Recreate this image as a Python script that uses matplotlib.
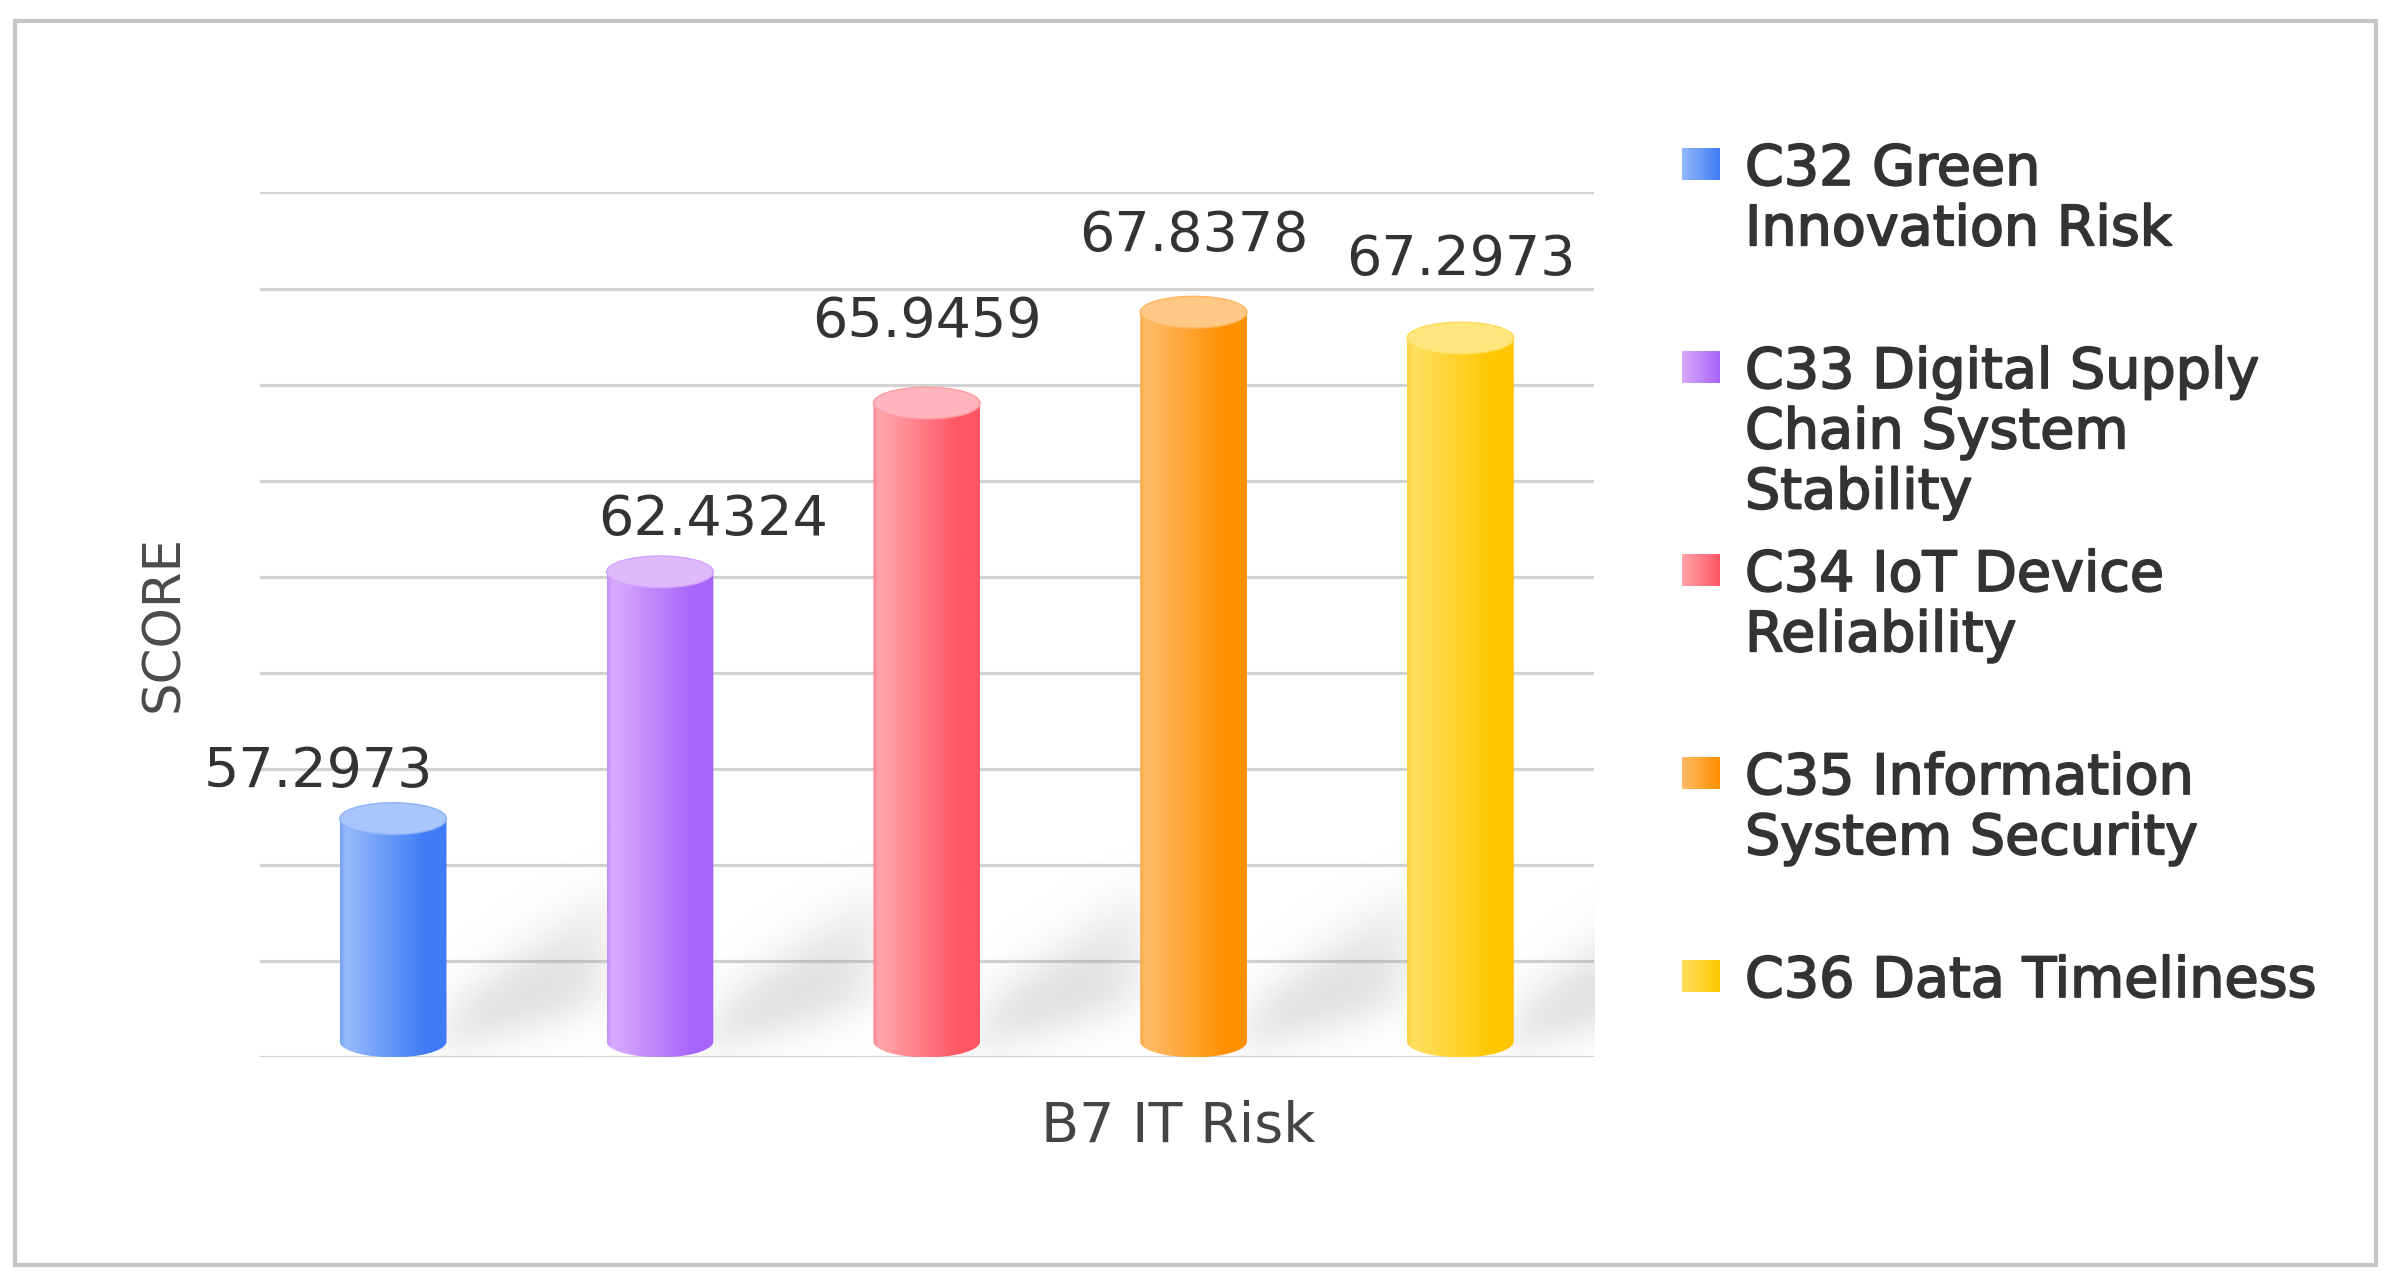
import numpy as np
import matplotlib
matplotlib.use("Agg")
import matplotlib.pyplot as plt
import matplotlib.patheffects as pe
from matplotlib.patches import Ellipse, PathPatch, Rectangle
from matplotlib.path import Path
from matplotlib.colors import to_rgb

# ---------------- data ----------------
categories = ["C32 Green Innovation Risk",
              "C33 Digital Supply Chain System Stability",
              "C34 IoT Device Reliability",
              "C35 Information System Security",
              "C36 Data Timeliness"]
legend_labels = ["C32 Green\nInnovation Risk",
                 "C33 Digital Supply\nChain System\nStability",
                 "C34 IoT Device\nReliability",
                 "C35 Information\nSystem Security",
                 "C36 Data Timeliness"]
values = [57.2973, 62.4324, 65.9459, 67.8378, 67.2973]
value_labels = ["57.2973", "62.4324", "65.9459", "67.8378", "67.2973"]
group_label = "B7 IT Risk"
y_label = "SCORE"
y_min, y_max, y_step = 52, 70, 2

# ---------------- style ----------------
light_cols = ["#93B8FB", "#D6A9FD", "#FFA3AA", "#FFBA66", "#FFDE5E"]
dark_cols = ["#3F7CF6", "#A865F9", "#FF5764", "#FF9000", "#FFC700"]
label_dx = [-75, 53, 0, 0, 0]      # pixel offsets of value labels
label_dy = [16, 21, 50, 46, 47]
bar_w = 0.40
ell = 0.33                          # ellipse semi-height (data units)
text_col = "#333333"

W, H, DPI = 2396, 1288, 100
fig = plt.figure(figsize=(W / DPI, H / DPI), dpi=DPI)
fig.patch.set_facecolor("white")

# outer frame
fig.add_artist(Rectangle((0.0062, 0.0178), 0.9855, 0.9660, transform=fig.transFigure,
                         fill=False, edgecolor="#c6c6c6", linewidth=3.0))

ax = fig.add_axes([0.1084, 0.1791, 0.5568, 0.6715])
ax.set_xlim(-0.5, len(values) - 0.5)
ax.set_ylim(y_min, y_max)
for s in ax.spines.values():
    s.set_visible(False)
ax.set_xticks([])
ax.set_yticks(np.arange(y_min, y_max + 0.1, y_step))
ax.tick_params(axis="y", length=0, labelleft=False)
ax.yaxis.grid(True, color="#d2d2d2", linewidth=2.3, zorder=0)
ax.set_axisbelow(True)

# ---------------- floor shadows ----------------
nx, ny = 1200, 500
xs = np.linspace(-0.5, len(values) - 0.5, nx)
ys = np.linspace(y_min, y_max, ny)
X, Y = np.meshgrid(xs, ys)
alpha = np.zeros_like(X)
sig = lambda z: 1.0 / (1.0 + np.exp(-z))
for i in range(len(values)):
    u = (X - (i + 0.18)) / 0.60
    lower = y_min + 0.15 + 0.9 * u
    upper = y_min + 0.9 + 2.3 * u
    a = (sig(u / 0.08) * sig((1.0 - u) / 0.12) *
         sig((Y - lower) / 0.25) * sig((upper - Y) / 0.35))
    alpha = np.maximum(alpha, 0.28 * a)
rgba = np.zeros((ny, nx, 4))
rgba[..., :3] = 0.52
rgba[..., 3] = alpha
ax.imshow(rgba, extent=(-0.5, len(values) - 0.5, y_min, y_max), origin="lower",
          aspect="auto", zorder=1.5, interpolation="bilinear")

# ---------------- cylinders ----------------
t = np.linspace(0, 1, 256)
prof = np.clip((t - 0.08) / 0.72, 0, 1)
edge = np.clip(1 - t / 0.05, 0, 1) * 0.35 + np.clip((t - 0.95) / 0.05, 0, 1) * 0.25
for i, v in enumerate(values):
    lc = np.array(to_rgb(light_cols[i]))
    dc = np.array(to_rgb(dark_cols[i]))
    cols = lc[None, :] * (1 - prof[:, None]) + dc[None, :] * prof[:, None]
    cols = cols * (1 - edge[:, None]) + dc[None, :] * edge[:, None] * 0.95
    img = np.tile(cols[None, :, :], (2, 1, 1))
    x0, x1 = i - bar_w / 2, i + bar_w / 2
    top_c = v - ell
    bot_c = y_min + ell
    ang = np.linspace(np.pi, 2 * np.pi, 60)
    arc = np.column_stack([i + bar_w / 2 * np.cos(ang), bot_c + ell * np.sin(ang)])
    verts = np.vstack([[x0, top_c], [x0, bot_c], arc[1:-1], [x1, bot_c], [x1, top_c], [x0, top_c]])
    codes = [Path.MOVETO] + [Path.LINETO] * (len(verts) - 2) + [Path.CLOSEPOLY]
    body = PathPatch(Path(verts, codes), facecolor="none", edgecolor="none",
                     transform=ax.transData)
    ax.add_patch(body)
    im = ax.imshow(img, extent=(x0, x1, y_min, top_c + 0.01), origin="lower",
                   aspect="auto", zorder=3, interpolation="bilinear")
    im.set_clip_path(body)
    topcol = lc * 0.8 + np.ones(3) * 0.2
    ax.add_patch(Ellipse((i, top_c), bar_w, 2 * ell, facecolor=topcol,
                         edgecolor=lc * 0.9 + dc * 0.1, linewidth=1.0, zorder=4))
    ax.annotate(value_labels[i], xy=(i, v), xytext=(label_dx[i], label_dy[i]),
                textcoords="offset pixels", ha="center", va="baseline",
                fontsize=40, color=text_col, family="DejaVu Sans", zorder=6)

ax.set_xlim(-0.5, len(values) - 0.5)
ax.set_ylim(y_min, y_max)

# axis titles
fig.text(0.4917, 0.125, group_label, ha="center", va="center", fontsize=40,
         color="#444444", family="DejaVu Sans")
fig.text(0.0685, 0.516, y_label, ha="center", va="center", rotation=90, fontsize=37,
         color="#4a4a4a", family="DejaVu Sans")

# ---------------- legend ----------------
leg_top = 1 - 143 / H
leg_step = 203 / H
for i, lab in enumerate(legend_labels):
    ytop = leg_top - i * leg_step
    sq = fig.add_axes([1682 / W, ytop - 37 / H, 38 / W, 32 / H])
    lc = np.array(to_rgb(light_cols[i]))
    dc = np.array(to_rgb(dark_cols[i]))
    tt = np.linspace(0, 1, 32)[:, None]
    grad = (lc[None, :] * (1 - tt) + dc[None, :] * tt)[None, :, :]
    sq.imshow(grad, aspect="auto", interpolation="bilinear")
    sq.set_axis_off()
    fig.text(1745 / W, ytop, lab, ha="left", va="top", fontsize=40, color=text_col,
             family="DejaVu Sans", linespacing=1.15,
             path_effects=[pe.withStroke(linewidth=1.3, foreground=text_col)])

fig.savefig("out.png", dpi=DPI, facecolor="white")
